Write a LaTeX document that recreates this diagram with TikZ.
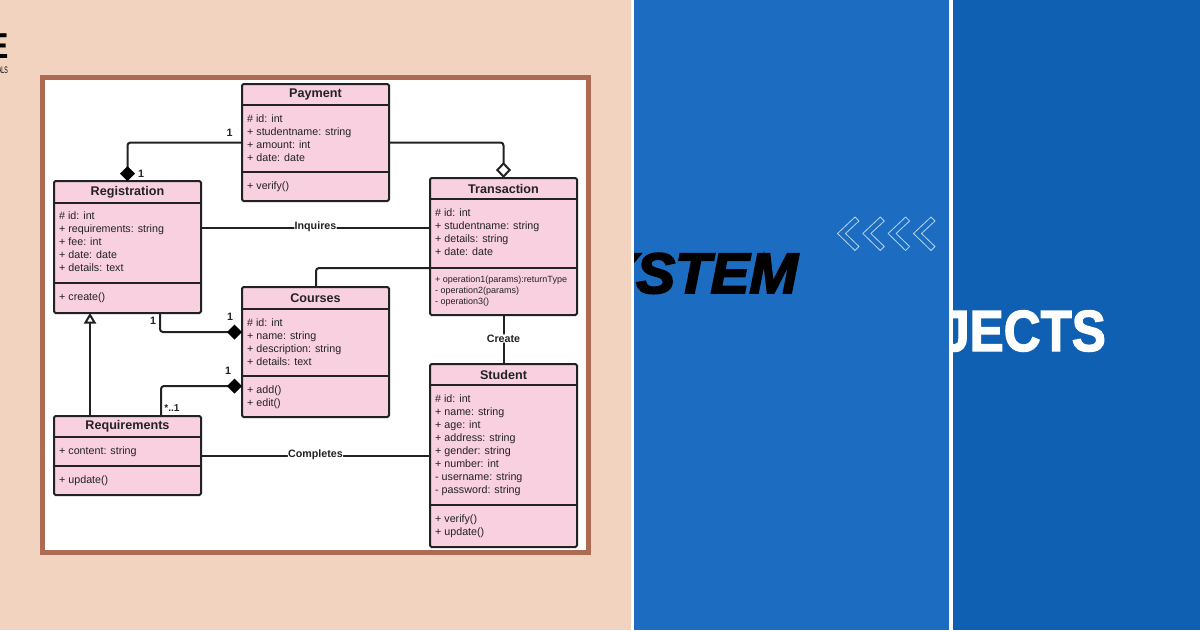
\documentclass[tikz,border=0pt]{standalone}
\usepackage{fontspec}
\setmainfont{Liberation Sans}
\newfontfamily\heavyfont[FakeBold=2.4]{Liberation Sans Bold}
\newfontfamily\heavyslant[FakeBold=3.4]{Liberation Sans Bold Italic}
\usetikzlibrary{arrows.meta,calc}
\definecolor{peach}{HTML}{F2D3C0}
\definecolor{framebrown}{HTML}{AC6B52}
\definecolor{pinkbox}{HTML}{F8D0E0}
\definecolor{ink}{HTML}{222222}
\definecolor{bluemid}{HTML}{1C6DC1}
\definecolor{bluedark}{HTML}{0F5FB2}
\definecolor{chevron}{HTML}{B5D6F2}
\tikzset{
  x=1pt,y=-1pt,
  umlframe/.style={draw=ink,fill=pinkbox,line width=2pt,rounded corners=1.5pt,inner sep=0pt,outer sep=0pt,anchor=north west},
  umlrule/.style={draw=ink,line width=2pt},
  umltitle/.style={font=\fontsize{12.6}{14}\selectfont\bfseries,text=ink,inner sep=0pt},
  umltext/.style={font=\fontsize{10.7}{13}\selectfont,text=ink,inner sep=0pt,anchor=north west,align=left},
  umlsmall/.style={font=\fontsize{9}{11}\selectfont,text=ink,inner sep=0pt,anchor=north west,align=left},
  wire/.style={draw=ink,line width=2pt,rounded corners=3pt},
  linklabel/.style={font=\fontsize{10.7}{13}\selectfont\bfseries,text=ink,fill=white,inner sep=0.3pt},
  mult/.style={font=\fontsize{10.7}{13}\selectfont\bfseries,text=ink,inner sep=0pt},
  solidgem/.style={-{Diamond[fill=black,length=15pt,width=15pt,line width=0pt]}},
  opengem/.style={-{Diamond[fill=white,length=16pt,width=15pt]}},
  opentri/.style={-{Triangle[fill=white,length=10.5pt,width=12pt]}},
  chev/.style={draw=chevron,line width=0.8pt,line join=round},
}
% name, left, top, bottom, title rule, divider, title
\newcommand{\umlbox}[7]{%
  \pgfmathsetmacro{\bw}{147}%
  \pgfmathsetmacro{\bh}{#4-#3}%
  \node[umlframe,minimum width=\bw pt,minimum height=\bh pt] (#1) at (#2,#3) {};
  \draw[umlrule] (#1.west |- 0,#5) -- (#1.east |- 0,#5);
  \draw[umlrule] (#1.west |- 0,#6) -- (#1.east |- 0,#6);
  \node[umltitle] (#1title) at ($(#1.north)!0.5!(#1.north |- 0,#5)$) {#7};
}
\newcommand{\chevshape}[1]{%
  \draw[chev,shift={(#1,0)}] (837.5,233.5) -- (855,217) -- (859,221) -- (845.5,233.5) -- (859,246.5) -- (855,250.5) -- cycle;
}
\begin{document}
\begin{tikzpicture}
\useasboundingbox (0,0) rectangle (1200,630);
% panels
\fill[peach] (0,0) rectangle (631,630);
\fill[white] (631,0) rectangle (634,630);
\fill[bluemid] (634,0) rectangle (949,630);
\fill[white] (949,0) rectangle (953,630);
\fill[bluedark] (953,0) rectangle (1200,630);
% clipped headline pieces
\begin{scope}
  \clip (0,0) rectangle (631,630);
  \node[font=\fontsize{36}{36}\selectfont\bfseries,text=black,inner sep=0pt,anchor=base east,xscale=0.8] (logoE) at (8.5,58) {E};
  \node[font=\fontsize{9.5}{9.5}\selectfont,text=black,inner sep=0pt,anchor=base east,xscale=0.55] (logoS) at (8,73) {IALS};
\end{scope}
\begin{scope}
  \clip (634,0) rectangle (949,630);
  \node[font=\heavyslant\fontsize{57}{57}\selectfont,text=black,inner sep=0pt,anchor=base east,xscale=1.02] (sys) at (798,293) {SYSTEM};
\end{scope}
\begin{scope}
  \clip (953,0) rectangle (1200,630);
  \node[font=\heavyfont\fontsize{58}{58}\selectfont,text=white,inner sep=0pt,anchor=base east,xscale=0.88] (proj) at (1106,351) {PROJECTS};
\end{scope}
\chevshape{0}\chevshape{25.3}\chevshape{50.6}\chevshape{76}
% framed white sheet
\draw[framebrown,line width=5pt,fill=white] (42.5,77.5) rectangle (588.5,552.5);
% classes
\umlbox{payment}{242}{84}{201}{105}{172}{Payment}
\node[umltext] (paya) at (247,115) {\# id: int\\+ studentname: string\\+ amount: int\\+ date: date};
\node[umltext] (payo) at (247,182) {+ verify()};
\umlbox{registration}{54}{181}{313}{203}{283}{Registration}
\node[umltext] (rega) at (59,212) {\# id: int\\+ requirements: string\\+ fee: int\\+ date: date\\+ details: text};
\node[umltext] (rego) at (59,293) {+ create()};
\umlbox{transaction}{430}{178}{315}{199}{268}{Transaction}
\node[umltext] (tra) at (435,209) {\# id: int\\+ studentname: string\\+ details: string\\+ date: date};
\node[umlsmall] (tro) at (435,276) {+ operation1(params):returnType\\- operation2(params)\\- operation3()};
\umlbox{courses}{242}{287}{417}{309}{376}{Courses}
\node[umltext] (coa) at (247,319) {\# id: int\\+ name: string\\+ description: string\\+ details: text};
\node[umltext] (coo) at (247,386) {+ add()\\+ edit()};
\umlbox{requirements}{54}{416}{495}{437}{466}{Requirements}
\node[umltext] (rqa) at (59,447) {+ content: string};
\node[umltext] (rqo) at (59,476) {+ update()};
\umlbox{student}{430}{364}{547}{385}{505}{Student}
\node[umltext] (sta) at (435,395) {\# id: int\\+ name: string\\+ age: int\\+ address: string\\+ gender: string\\+ number: int\\- username: string\\- password: string};
\node[umltext] (sto) at (435,515) {+ verify()\\+ update()};
% helper coordinates
\coordinate (inq) at (315,228);
\coordinate (crs) at (316,268);
\coordinate (regc) at (160,332);
\coordinate (reqc) at (161,386);
\coordinate (gen) at (90,0);
\coordinate (cpl) at (315,456);
% connectors
\draw[wire,solidgem] (payment.west) -| (registration.north);
\draw[wire,opengem] (payment.east) -| (transaction.north);
\draw[wire] (registration.east |- inq) -- (transaction.west |- inq) node[linklabel,midway,yshift=0.8pt] (lblinq) {Inquires};
\draw[wire] (transaction.west |- crs) -| (courses.north -| crs);
\draw[wire] (transaction.south) -- (student.north) node[linklabel,midway,yshift=1pt] (lblcre) {Create};
\draw[wire,solidgem] (registration.south -| regc) |- (courses.west |- regc);
\draw[wire,solidgem] (requirements.north -| reqc) |- (courses.west |- reqc);
\draw[wire,opentri] (requirements.north -| gen) -- (registration.south -| gen);
\draw[wire] (requirements.east |- cpl) -- (student.west |- cpl) node[linklabel,midway,yshift=1.5pt] (lblcpl) {Completes};
% multiplicities
\node[mult] (m1) at (229.5,133) {1};
\node[mult] (m2) at (141,173.5) {1};
\node[mult] (m3) at (153,320.5) {1};
\node[mult] (m4) at (230,316.5) {1};
\node[mult] (m5) at (228,370.5) {1};
\node[mult,font=\fontsize{10}{12}\selectfont\bfseries] (m6) at (172,408) {*..1};
\end{tikzpicture}
\end{document}
